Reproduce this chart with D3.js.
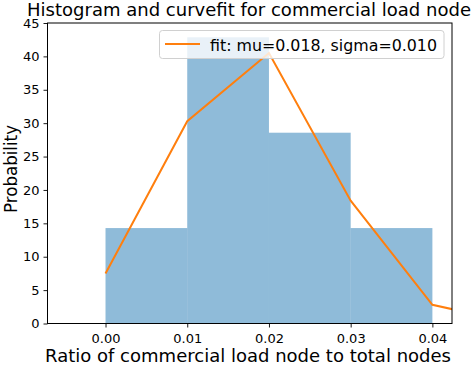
<!DOCTYPE html>
<html><head><meta charset="utf-8">
<script src="https://cdn.jsdelivr.net/npm/d3@7"></script>
<style>body{margin:0;background:#fff}svg{display:block}text{font-family:"DejaVu Sans",sans-serif;fill:#000}</style>
</head><body><svg id="c" width="474" height="366"></svg>
<script>
const binEdges = [0.00, 0.01, 0.02, 0.03, 0.04];
const binHeights = [14.29, 42.86, 28.57, 14.29];
const fitX = [0.00, 0.01, 0.02, 0.03, 0.04, 0.05];
const fitY = [7.5, 30.3, 40.5, 18.4, 2.8, 0.1];
const xTicks = [0.00, 0.01, 0.02, 0.03, 0.04];
const yTicks = [0, 5, 10, 15, 20, 25, 30, 35, 40, 45];
const titleText = "Histogram and curvefit for commercial load node";
const xLabel = "Ratio of commercial load node to total nodes";
const yLabel = "Probability";
const legendText = "fit: mu=0.018, sigma=0.010";

const svg = d3.select("#c");
const L = 47.5, R = 452, T = 23, B = 323.5;
const x = d3.scaleLinear().domain([-0.0071, 0.0424]).range([L, R]);
const y = d3.scaleLinear().domain([0, 45]).range([B, T]);

const defs = svg.append("defs");
defs.append("clipPath").attr("id","clip").append("rect").attr("x",L).attr("y",T).attr("width",R-L).attr("height",B-T);

const bins = binHeights.map((h,i)=>({x0:binEdges[i],x1:binEdges[i+1],h}));
svg.append("g").attr("clip-path","url(#clip)").selectAll("rect").data(bins).join("rect")
  .attr("x",d=>x(d.x0)).attr("width",d=>x(d.x1)-x(d.x0))
  .attr("y",d=>y(d.h)).attr("height",d=>y(0)-y(d.h))
  .attr("fill","#1f77b4").attr("fill-opacity",0.5);

svg.append("path").attr("clip-path","url(#clip)")
  .datum(fitX.map((v,i)=>[v,fitY[i]]))
  .attr("d", d3.line().x(d=>x(d[0])).y(d=>y(d[1])))
  .attr("fill","none").attr("stroke","#ff7f0e").attr("stroke-width",2);

// axes
const xa = svg.append("g").attr("transform",`translate(0,${B})`)
  .call(d3.axisBottom(x).tickValues(xTicks).tickFormat(d3.format(".2f")).tickSizeOuter(0).tickSize(4).tickPadding(4));
const ya = svg.append("g").attr("transform",`translate(${L},0)`)
  .call(d3.axisLeft(y).tickValues(yTicks).tickFormat(d3.format("d")).tickSizeOuter(0).tickSize(4).tickPadding(4));
[xa,ya].forEach(g=>{g.select(".domain").remove();g.selectAll("text").attr("font-size",13).attr("font-family","DejaVu Sans");g.selectAll("line").attr("stroke","#000").attr("stroke-width",0.9);});
xa.selectAll("text").attr("dy","0.9em");

svg.append("rect").attr("x",L).attr("y",T).attr("width",R-L).attr("height",B-T)
  .attr("fill","none").attr("stroke","#000").attr("stroke-width",1);

// legend
const lg = svg.append("g");
lg.append("rect").attr("x",159.5).attr("y",30.5).attr("width",284.5).attr("height",28).attr("rx",3)
  .attr("fill","#fff").attr("fill-opacity",0.8).attr("stroke","#d0d0d0").attr("stroke-width",1);
lg.append("line").attr("x1",165).attr("x2",200).attr("y1",44).attr("y2",44).attr("stroke","#ff7f0e").attr("stroke-width",2);
lg.append("text").attr("x",210).attr("y",50.5).attr("font-size",16).attr("textLength",227).attr("lengthAdjust","spacingAndGlyphs").text(legendText);

svg.append("text").attr("x",249).attr("y",16).attr("text-anchor","middle").attr("font-size",18)
  .attr("textLength",444).attr("lengthAdjust","spacingAndGlyphs").text(titleText);
svg.append("text").attr("x",248).attr("y",362).attr("text-anchor","middle").attr("font-size",18)
  .attr("textLength",406).attr("lengthAdjust","spacingAndGlyphs").text(xLabel);
svg.append("text").attr("transform",`translate(17,169) rotate(-90)`).attr("text-anchor","middle").attr("font-size",18)
  .attr("textLength",88).attr("lengthAdjust","spacingAndGlyphs").text(yLabel);
</script></body></html>
